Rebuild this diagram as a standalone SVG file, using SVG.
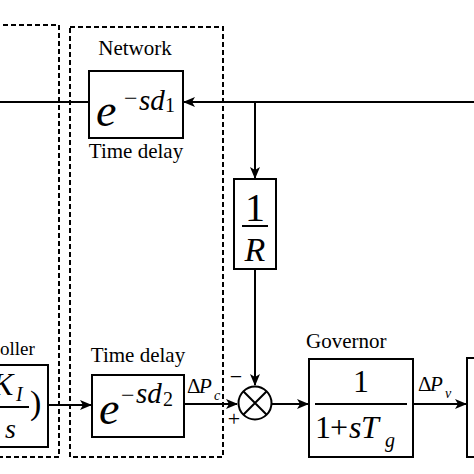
<svg xmlns="http://www.w3.org/2000/svg" width="474" height="474" viewBox="0 0 474 474">
<style>
.blk{fill:#fff;stroke:#000;stroke-width:2}
.dash{fill:none;stroke:#000;stroke-width:2;stroke-dasharray:5 3}
.ln{fill:none;stroke:#000;stroke-width:2}
.t{font-family:"Liberation Serif","Times New Roman",serif;fill:#000}
.i{font-style:italic}
</style>
<defs>
<marker id="ah" viewBox="0 0 12 10" refX="11" refY="5" markerWidth="12" markerHeight="10" markerUnits="userSpaceOnUse" orient="auto">
<path d="M0,0 L12,5 L0,10 L3,5 z" fill="#000"/>
</marker>
</defs>
<rect width="474" height="474" fill="#fff"/>
<g id="controller-frame"><path class="dash" d="M-5,25 H59 V457 H-5"/></g>
<g id="network-frame"><rect class="dash" x="70" y="27" width="153" height="430"/></g>
<g id="connectors">
<path class="ln" d="M0,102 H89"/>
<path class="ln" d="M474,102 H184" marker-end="url(#ah)"/>
<path class="ln" d="M255,102 V178" marker-end="url(#ah)"/>
<path class="ln" d="M255,269 V385" marker-end="url(#ah)"/>
<path class="ln" d="M48,405 H91" marker-end="url(#ah)"/>
<path class="ln" d="M184,404 H237" marker-end="url(#ah)"/>
<path class="ln" d="M272,404 H308" marker-end="url(#ah)"/>
<path class="ln" d="M413,404 H466" marker-end="url(#ah)"/>
</g>
<g id="controller">
<rect class="blk" x="-5" y="365" width="53" height="82"/>
<text class="t" x="0" y="355" font-size="19">oller</text>
<text class="t i" x="-8" y="395" font-size="32">K</text>
<text class="t i" x="16" y="401" font-size="20">I</text>
<path class="ln" d="M0,407 H29"/>
<text class="t" x="30" y="414" font-size="34">)</text>
<text class="t i" x="5" y="438" font-size="28">s</text>
</g>
<g id="network-delay">
<text class="t" x="135" y="55" font-size="21" text-anchor="middle">Network</text>
<rect class="blk" x="89" y="71" width="94" height="67"/>
<text class="t i" x="96" y="126" font-size="46">e</text>
<text class="t" x="124" y="106" font-size="24">−</text>
<text class="t i" x="139" y="110" font-size="29">sd</text>
<text class="t" x="165" y="112" font-size="20">1</text>
<text class="t" x="136" y="158" font-size="21" text-anchor="middle">Time delay</text>
</g>
<g id="droop">
<rect class="blk" x="234" y="179" width="42" height="90"/>
<text class="t" x="255" y="221" font-size="40" text-anchor="middle">1</text>
<path class="ln" d="M242,226 H268"/>
<text class="t i" x="255" y="261" font-size="34" text-anchor="middle">R</text>
</g>
<g id="control-delay">
<text class="t" x="138" y="362" font-size="21" text-anchor="middle">Time delay</text>
<rect class="blk" x="92" y="375" width="92" height="62"/>
<text class="t i" x="99" y="424" font-size="46">e</text>
<text class="t" x="121" y="403" font-size="24">−</text>
<text class="t i" x="136" y="403" font-size="29">sd</text>
<text class="t" x="163" y="406" font-size="20">2</text>
<text class="t" x="187" y="393" font-size="21">Δ</text>
<text class="t i" x="199" y="393" font-size="21">P</text>
<text class="t i" x="214" y="400" font-size="14">c</text>
</g>
<g id="sum">
<circle cx="255" cy="403" r="16.5" fill="#fff" stroke="#000" stroke-width="2"/>
<path class="ln" d="M243.3,391.3 L266.7,414.7 M266.7,391.3 L243.3,414.7"/>
<text class="t" x="236" y="384" font-size="22" text-anchor="middle">−</text>
<text class="t" x="234" y="426" font-size="22" text-anchor="middle">+</text>
</g>
<g id="governor">
<text class="t" x="306" y="348" font-size="21">Governor</text>
<rect class="blk" x="309" y="359" width="104" height="98"/>
<text class="t" x="361" y="392" font-size="32" text-anchor="middle">1</text>
<path class="ln" d="M315,404 H407"/>
<text class="t" x="315" y="438" font-size="32">1<tspan x="330">+</tspan><tspan class="i" x="349">s</tspan><tspan class="i" x="361">T</tspan></text>
<text class="t i" x="385" y="447" font-size="20">g</text>
<text class="t" x="418" y="391" font-size="21">Δ</text>
<text class="t i" x="430" y="391" font-size="21">P</text>
<text class="t i" x="445" y="398" font-size="14">v</text>
</g>
<g id="turbine"><rect class="blk" x="467" y="358" width="20" height="99"/></g>
</svg>
